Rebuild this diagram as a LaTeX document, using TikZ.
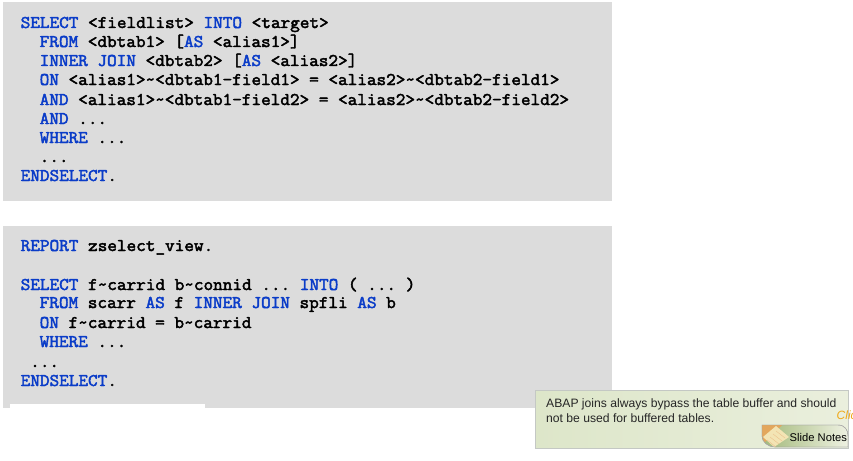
\documentclass[tikz,border=0pt]{standalone}
\usepackage{fontspec}
\setmainfont{Liberation Sans}
\newfontfamily\codefont{Latin Modern Mono}[FakeBold=2.6,FakeStretch=1.05]
\definecolor{panelgray}{HTML}{DCDCDC}
\definecolor{kwblue}{HTML}{0A3CC8}
\definecolor{noteleft}{HTML}{DDE6C9}
\definecolor{noteright}{HTML}{EAEFDD}
\definecolor{noteedge}{HTML}{C4C8C4}
\definecolor{clickorange}{HTML}{F0A818}
\definecolor{btnleft}{HTML}{A3B97A}
\definecolor{btnright}{HTML}{EEF1E2}
\definecolor{btncorner}{HTML}{E3A75C}
\definecolor{btnpage}{HTML}{F3E4B4}
\newcommand{\kw}[1]{\textcolor{kwblue}{#1}}
\newcommand{\tld}{\char`\~}
\newcommand{\btnpath}{(762,425) -- (838,425) .. controls (845,425) and (848,430) .. (848,436) -- (848,447) -- (775,447) .. controls (768,447) and (762,442) .. (762,436) -- cycle}
\begin{document}
\begin{tikzpicture}[x=1pt,y=-1pt,
  codeline/.style={anchor=base west, inner sep=0pt, font=\codefont\frenchspacing\fontsize{17.8}{18}\selectfont, text=black},
  notetext/.style={anchor=base west, inner sep=0pt, font=\fontsize{12.15}{12}\selectfont, text=black!85},
  panel/.style={fill=panelgray, draw=none}]
\useasboundingbox (0,0) rectangle (853,460);
\fill[white] (0,0) rectangle (853,460);
\fill[panel] (3,2) rectangle (612,201);
\fill[panel] (3,226) rectangle (612,408);
\fill[white] (10,404) rectangle (205,408);
% first panel
\node[codeline] (a1) at (20.5,28) {\kw{SELECT} <fieldlist> \kw{INTO} <target>};
\node[codeline] (a2) at (39.5,47) {\kw{FROM} <dbtab1> [\kw{AS} <alias1>]};
\node[codeline] (a3) at (39.5,66) {\kw{INNER JOIN} <dbtab2> [\kw{AS} <alias2>]};
\node[codeline] (a4) at (39.5,85) {\kw{ON} <alias1>\tld<dbtab1-field1> = <alias2>\tld<dbtab2-field1>};
\node[codeline] (a5) at (39.5,105) {\kw{AND} <alias1>\tld<dbtab1-field2> = <alias2>\tld<dbtab2-field2>};
\node[codeline] (a6) at (39.5,124) {\kw{AND} ...};
\node[codeline] (a7) at (39.5,143) {\kw{WHERE} ...};
\node[codeline] (a8) at (39.5,162) {...};
\node[codeline] (a9) at (20.5,181) {\kw{ENDSELECT}.};
% second panel
\node[codeline] (b1) at (20.5,251) {\kw{REPORT} zselect\_view.};
\node[codeline] (b2) at (20.5,290) {\kw{SELECT} f\tld carrid b\tld connid ... \kw{INTO} ( ... )};
\node[codeline] (b3) at (39.5,308) {\kw{FROM} scarr \kw{AS} f \kw{INNER JOIN} spfli \kw{AS} b};
\node[codeline] (b4) at (39.5,328) {\kw{ON} f\tld carrid = b\tld carrid};
\node[codeline] (b5) at (39.5,347) {\kw{WHERE} ...};
\node[codeline] (b6) at (30,367) {...};
\node[codeline] (b7) at (20.5,386) {\kw{ENDSELECT}.};
% note box
\draw[noteedge, left color=noteleft, right color=noteright] (535.5,390.5) rectangle (848.5,448.5);
\node[notetext] (note1) at (546,407) {ABAP joins always bypass the table buffer and should};
\node[notetext] (note2) at (546,422) {not be used for buffered tables.};
\node[anchor=base west, inner sep=0pt, font=\itshape\fontsize{12}{12}\selectfont, text=clickorange] (click) at (836.5,419) {Clic};
% slide notes button
\draw[gray!70, left color=btnleft, middle color=btnleft!65!btnright, right color=btnright] \btnpath;
\begin{scope}
\clip \btnpath;
\fill[btncorner] (762,425) -- (782,425) -- (762,445) -- cycle;
\fill[btnpage] (776,426) -- (789,437) -- (774,447) -- (763,437) -- cycle;
\foreach \i in {0,3,6,9}{\draw[btncorner!70!white] (767+\i,440-\i) -- (776+\i,447-\i);}
\end{scope}
\draw[gray!70] \btnpath;
\node[anchor=base west, inner sep=0pt, font=\fontsize{11.2}{12}\selectfont, text=black] (slidenotes) at (789.5,441) {Slide Notes};
\end{tikzpicture}
\end{document}
